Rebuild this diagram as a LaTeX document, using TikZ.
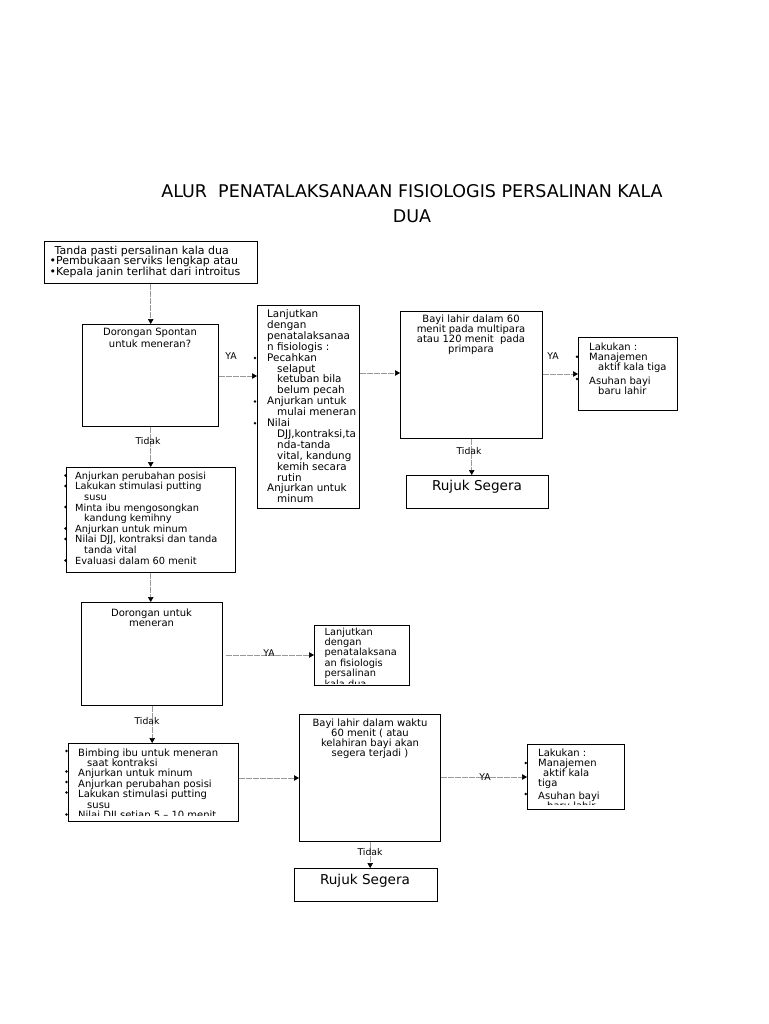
\documentclass[tikz,border=0pt]{standalone}
\usepackage{fontspec}
\setmainfont{DejaVu Sans}
\usetikzlibrary{arrows.meta,calc}
\newcommand{\myind}[1][9pt]{\hspace*{#1}}
\begin{document}
\lineskiplimit=-20pt
\begin{tikzpicture}[x=1pt,y=-1pt,
  bx/.style={draw=black, line width=1.4pt, anchor=north west, inner sep=0pt},
  txt/.style={inner sep=0pt, align=left, anchor=north west, font=\fontsize{10}{10.5}\selectfont},
  ctxt/.style={inner sep=0pt, align=center, anchor=north, font=\fontsize{10}{10}\selectfont},
  big/.style={inner sep=0pt, font=\fontsize{13.6}{15}\selectfont},
  conn/.style={draw=black!40, line width=0.7pt, dash pattern=on 6pt off 1pt, -{Triangle[black,width=5.5pt,length=5pt]}},
  lbl/.style={inner sep=0pt, font=\fontsize{9.3}{10}\selectfont},
  bul/.style={fill=black},
  execute at begin node={\lineskiplimit=-20pt}
]
\useasboundingbox (0,0) rectangle (768,1024);

% title
\node[inner sep=0pt, align=center, anchor=north, font=\fontsize{17.5}{25}\selectfont] (title) at (412,184.6)
  {ALUR\ \ PENATALAKSANAAN FISIOLOGIS PERSALINAN KALA\\DUA};

% boxes
\node[bx, minimum width=213pt, minimum height=42pt] (A) at (44,241) {};
\node[bx, minimum width=136pt, minimum height=102pt] (B) at (82,324) {};
\node[bx, minimum width=102pt, minimum height=203pt] (C) at (257,305) {};
\node[bx, minimum width=142pt, minimum height=127pt] (D) at (400,311) {};
\node[bx, minimum width=99pt, minimum height=73pt] (E) at (578,337) {};
\node[bx, minimum width=142pt, minimum height=33pt] (F) at (406,475) {};
\node[bx, minimum width=169pt, minimum height=105pt] (G) at (66,467) {};
\node[bx, minimum width=141pt, minimum height=103pt] (H) at (81,602) {};
\node[bx, minimum width=95pt, minimum height=60pt] (I) at (314,625) {};
\node[bx, minimum width=170pt, minimum height=78pt] (J) at (68,743) {};
\node[bx, minimum width=141pt, minimum height=127pt] (K) at (299,714) {};
\node[bx, minimum width=97pt, minimum height=65pt] (L) at (527,744) {};
\node[bx, minimum width=143pt, minimum height=33pt] (M) at (294,868) {};

% texts
\node[txt, font=\fontsize{11}{10.5}\selectfont] (At) at (49.5,245.6) {\myind[5pt]Tanda pasti persalinan kala dua\\•Pembukaan serviks lengkap atau\\•Kepala janin terlihat dari introitus};
\node[ctxt, font=\fontsize{10}{12}\selectfont] (Bt) at (150,328) {Dorongan Spontan\\untuk meneran?};
\node[txt, font=\fontsize{10.4}{10.9}\selectfont] (Ct) at (267,309.4)
  {Lanjutkan\\dengan\\penatalaksanaa\\n fisiologis :\\Pecahkan\\\myind[10pt]selaput\\\myind[10pt]ketuban bila\\\myind[10pt]belum pecah\\Anjurkan untuk\\\myind[10pt]mulai meneran\\Nilai\\\myind[10pt]DJJ,kontraksi,ta\\\myind[10pt]nda-tanda\\\myind[10pt]vital, kandung\\\myind[10pt]kemih secara\\\myind[10pt]rutin\\Anjurkan untuk\\\myind[10pt]minum};
\node[ctxt, font=\fontsize{10}{9.9}\selectfont] (Dt) at (471,315) {Bayi lahir dalam 60\\menit pada multipara\\atau 120 menit\ \ pada\\primpara};
\node[txt, font=\fontsize{10}{10}\selectfont] (Et) at (589,342.8) {Lakukan :\\Manajemen\\\myind aktif kala tiga\\[3.4pt]Asuhan bayi\\\myind baru lahir};
\node[big] (Ft) at (477,487) {Rujuk Segera};
\node[txt, font=\fontsize{9.8}{10.6}\selectfont] (Gt) at (75,471.7)
  {Anjurkan perubahan posisi\\Lakukan stimulasi putting\\\myind susu\\Minta ibu mengosongkan\\\myind kandung kemihny\\Anjurkan untuk minum\\Nilai DJJ, kontraksi dan tanda\\\myind tanda vital\\Evaluasi dalam 60 menit};
\node[ctxt] (Ht) at (151.5,609) {Dorongan untuk\\meneran};
\begin{scope}
  \clip (I.north west) rectangle ([yshift=3pt]I.south east);
  \node[txt, font=\fontsize{9.8}{10.4}\selectfont] (It) at (324.5,627.4) {Lanjutkan\\dengan\\penatalaksana\\an fisiologis\\persalinan\\kala dua};
\end{scope}
\begin{scope}
  \clip (J.north west) rectangle ([yshift=7pt]J.south east);
  \node[txt, font=\fontsize{10}{10.4}\selectfont] (Jt) at (78,748.3)
    {Bimbing ibu untuk meneran\\\myind saat kontraksi\\Anjurkan untuk minum\\Anjurkan perubahan posisi\\Lakukan stimulasi putting\\\myind susu\\Nilai DJJ setiap 5 – 10 menit};
\end{scope}
\node[ctxt, font=\fontsize{10}{10}\selectfont] (Kt) at (370,718.5) {Bayi lahir dalam waktu\\60 menit ( atau\\kelahiran bayi akan\\segera terjadi )};
\begin{scope}
  \clip (L.north west) rectangle ([yshift=6pt]L.south east);
  \node[txt, font=\fontsize{10}{10.2}\selectfont] (Lt) at (538,748.4) {Lakukan :\\Manajemen\\\myind[5pt]aktif kala\\tiga\\[2pt]Asuhan bayi\\\myind baru lahir};
\end{scope}
\node[big] (Mt) at (365,880.5) {Rujuk Segera};

% bullets
\foreach \p in {(255,358),(255,401.5),(255,423.3),(577,356.7),(577,379),
  (65.5,475.5),(65.5,486),(65.5,507),(65.5,528.5),(65.5,539),(65.5,560.5),
  (66.5,751),(66.5,771.5),(66.5,782),(66.5,792.5),(66.5,814.5),
  (525.7,763),(525.7,794)}
  \fill[bul] \p circle (1.4pt);

% connector anchor points
\coordinate (bc) at ($(B.north east)+(0,52)$);
\coordinate (cd) at ($(C.north east)+(0,68)$);
\coordinate (de) at ($(D.north east)+(0,63)$);
\coordinate (hi) at ($(H.north east)+(3,53)$);
\coordinate (jk) at ($(J.north east)+(0,35)$);
\coordinate (kl) at ($(K.north east)+(0,63)$);

% connectors
\draw[conn] (B.north |- A.south) -- (B.north);
\draw[conn] (bc) -- (bc -| C.west);
\draw[conn] (cd) -- (cd -| D.west);
\draw[conn] (de) -- (de -| E.west);
\draw[conn] (D.south) -- (D.south |- F.north);
\draw[conn] (B.south) -- (B.south |- G.north);
\draw[conn] (G.south -| B.south) -- (B.south |- H.north);
\draw[conn] (hi) -- (hi -| I.west);
\draw[conn] (H.south) -- (H.south |- J.north);
\draw[conn] (jk) -- (jk -| K.west);
\draw[conn] (kl) -- (kl -| L.west);
\draw[conn] (K.south) -- (K.south |- M.north);

% labels
\node[lbl] (ya1) at (231,356) {YA};
\node[lbl] (ya2) at (553,356) {YA};
\node[lbl] (ya3) at (269,653) {YA};
\node[lbl] (ya4) at (485,777) {YA};
\node[lbl] (td1) at (148,441.5) {Tidak};
\node[lbl] (td2) at (469,451) {Tidak};
\node[lbl] (td3) at (147,721.5) {Tidak};
\node[lbl] (td4) at (370,852.5) {Tidak};
\end{tikzpicture}
\end{document}
